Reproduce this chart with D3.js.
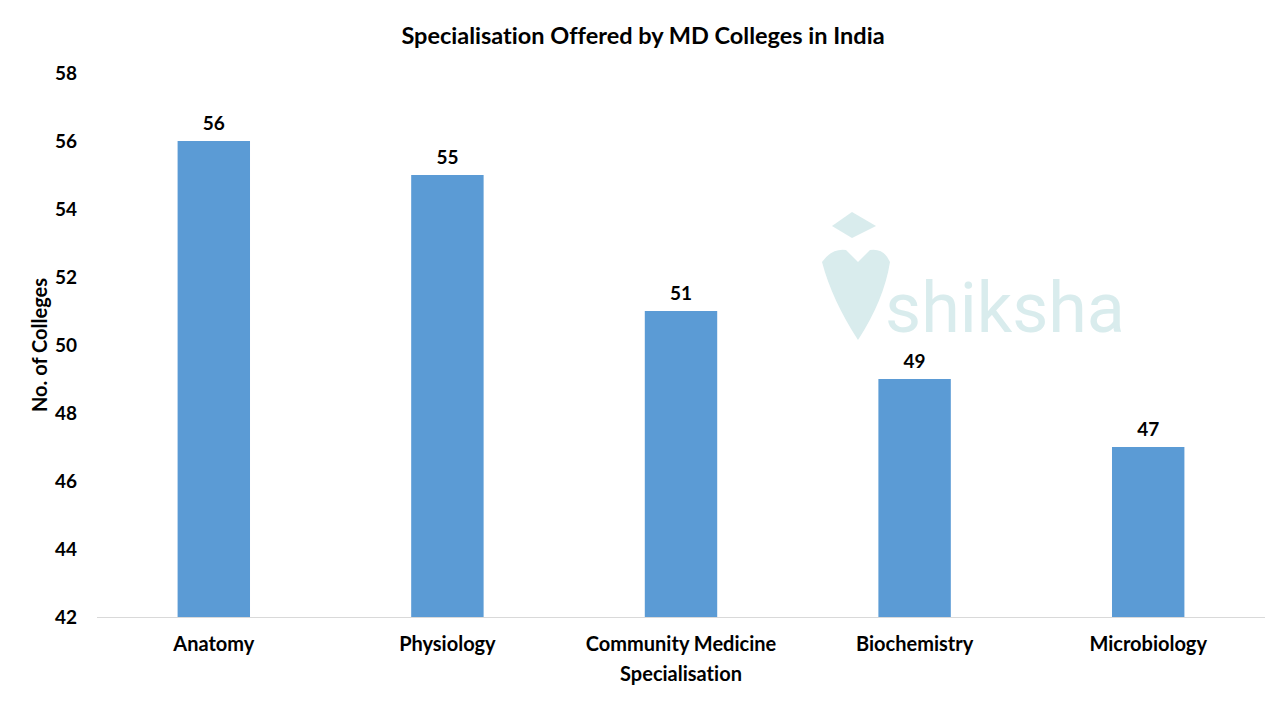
<!DOCTYPE html>
<html>
<head>
<meta charset="utf-8">
<script src="https://cdn.jsdelivr.net/npm/d3@7"></script>
<style>
  body { margin: 0; background: #fff; }
  text { font-family: Lato, "Open Sans", sans-serif; font-weight: bold; fill: #000; font-variant-ligatures: none; }
</style>
</head>
<body>
<script>
var categories = ['Anatomy', 'Physiology', 'Community Medicine', 'Biochemistry', 'Microbiology'];
var values = [56, 55, 51, 49, 47];
var yTicks = [42, 44, 46, 48, 50, 52, 54, 56, 58];

var width = 1280, height = 720;
var margin = {top: 73, right: 15, bottom: 103, left: 97};

var svg = d3.select('body').append('svg')
  .attr('width', width)
  .attr('height', height);

// watermark
var wm = svg.append('g');
wm.append('text')
  .attr('x', 885).attr('y', 332)
  .style('font-family', 'Roboto, sans-serif')
  .style('font-weight', 'normal')
  .style('font-size', '70px')
  .style('fill', '#d9eced')
  .text('shiksha');
wm.append('path')
  .attr('d', 'M822,262 Q832,248 846,250 L858,262 L870,250 Q884,248 890,262 Q884,300 858,340 Q832,300 822,262 Z')
  .style('fill', '#d9eced');
wm.append('path')
  .attr('d', 'M832,226 L852,212 L876,226 L852,238 Z')
  .style('fill', '#d9eced');

var x = d3.scaleBand()
  .domain(categories)
  .range([margin.left, width - margin.right])
  .paddingInner(0.69)
  .paddingOuter(0.345);

var y = d3.scaleLinear()
  .domain([42, 58])
  .range([height - margin.bottom, margin.top]);

// Title
svg.append('text')
  .attr('x', 643).attr('y', 44)
  .style('text-anchor', 'middle')
  .style('font-size', '23.5px')
  .text('Specialisation Offered by MD Colleges in India');

// Y axis labels
svg.append('g').selectAll('text')
  .data(yTicks)
  .enter()
  .append('text')
    .attr('x', 77)
    .attr('y', function(d){ return y(d); })
    .attr('dy', '0.35em')
    .style('text-anchor', 'end')
    .style('font-size', '19px')
    .text(function(d){ return d; });

// Bars
svg.append('g').selectAll('rect')
  .data(values)
  .enter()
  .append('rect')
    .attr('x', function(d, i){ return x(categories[i]); })
    .attr('y', function(d){ return y(d); })
    .attr('width', x.bandwidth())
    .attr('height', function(d){ return y(42) - y(d); })
    .style('fill', '#5B9BD5');

// Value labels
svg.append('g').selectAll('text')
  .data(values)
  .enter()
  .append('text')
    .attr('x', function(d, i){ return x(categories[i]) + x.bandwidth() / 2; })
    .attr('y', function(d){ return y(d) - 11; })
    .style('text-anchor', 'middle')
    .style('font-size', '19px')
    .text(function(d){ return d; });

// X axis line
svg.append('line')
  .attr('x1', margin.left).attr('x2', width - margin.right)
  .attr('y1', y(42) + 0.5).attr('y2', y(42) + 0.5)
  .style('stroke', '#d9d9d9')
  .style('stroke-width', 1);

// Category labels
svg.append('g').selectAll('text')
  .data(categories)
  .enter()
  .append('text')
    .attr('x', function(d){ return x(d) + x.bandwidth() / 2; })
    .attr('y', 651)
    .style('text-anchor', 'middle')
    .style('font-size', '20px')
    .text(function(d){ return d; });

// Axis titles
svg.append('text')
  .attr('x', 681).attr('y', 681)
  .style('text-anchor', 'middle')
  .style('font-size', '20px')
  .text('Specialisation');

svg.append('text')
  .attr('transform', 'translate(47,345) rotate(-90)')
  .style('text-anchor', 'middle')
  .style('font-size', '20px')
  .text('No. of Colleges');
</script>
</body>
</html>
